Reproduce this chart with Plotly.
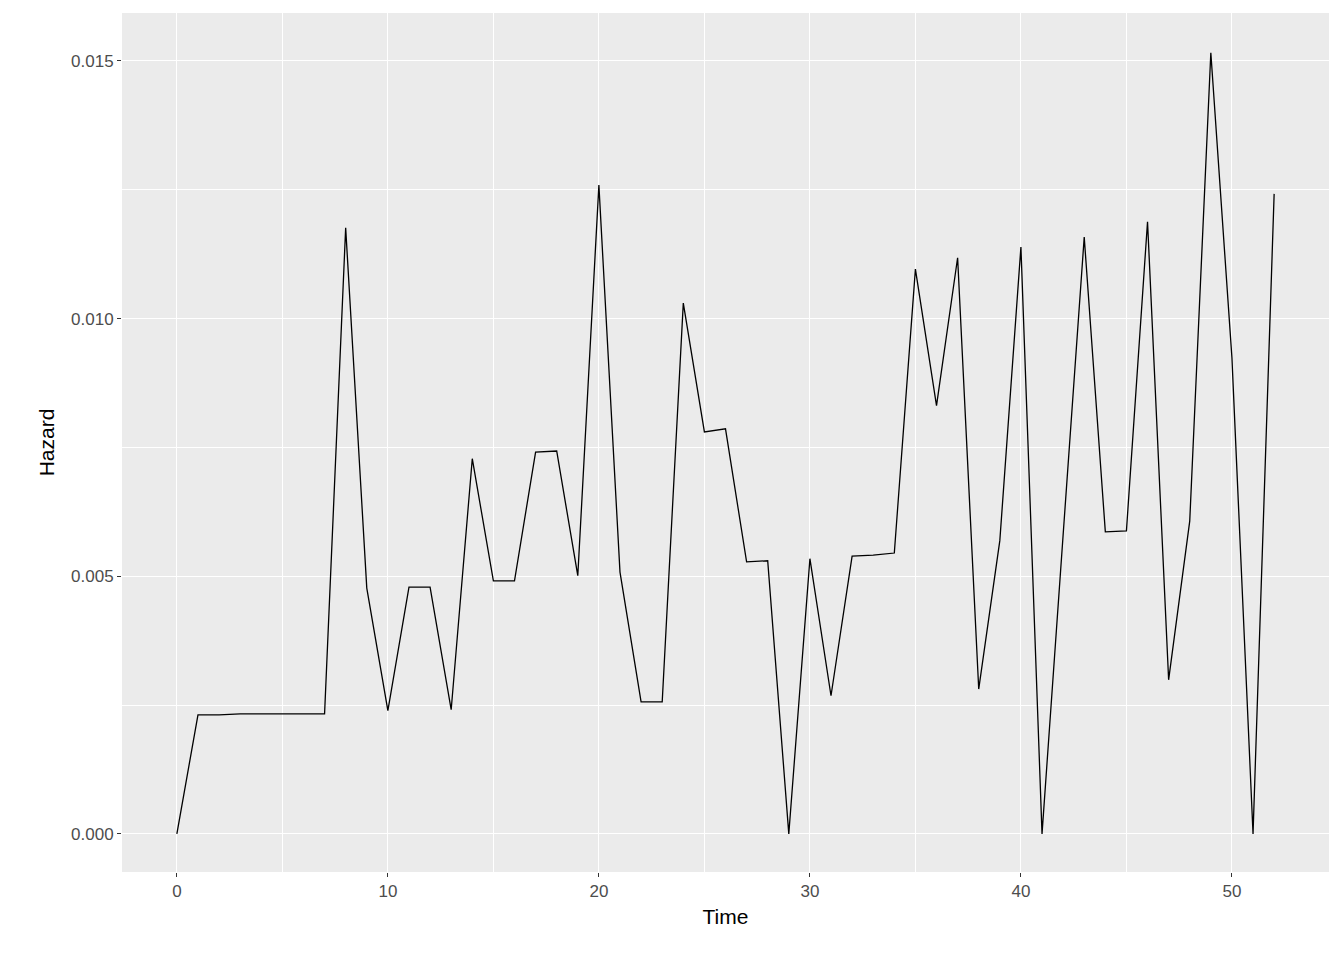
import plotly.graph_objects as go

time = list(range(53))
hazard = [0, 0.00231, 0.00231, 0.00233, 0.00233, 0.00233, 0.00233, 0.00233, 0.01176, 0.00477,
          0.00239, 0.00479, 0.00479, 0.00241, 0.00728, 0.00491, 0.00491, 0.00741, 0.00743, 0.00501,
          0.01259, 0.00508, 0.00256, 0.00256, 0.01030, 0.00780, 0.00786, 0.00528, 0.00530, 0.0,
          0.00534, 0.00268, 0.00539, 0.00541, 0.00545, 0.01096, 0.00831, 0.01118, 0.00281, 0.00569,
          0.01139, 0.0, 0.00580, 0.01158, 0.00586, 0.00588, 0.01188, 0.00299, 0.00607, 0.01516,
          0.00924, 0.0, 0.01242]

fig = go.Figure(go.Scatter(x=time, y=hazard, mode="lines", line=dict(color="black", width=1.3)))

axis_common = dict(showgrid=True, gridcolor="white", gridwidth=1.4, zeroline=False,
                   ticks="outside", ticklen=4, tickcolor="#333333",
                   tickfont=dict(size=17, color="#4D4D4D", family="Liberation Sans"),
                   showline=False)
fig.update_xaxes(range=[-2.6, 54.6], tickvals=[0, 10, 20, 30, 40, 50],
                 title=dict(text="Time", font=dict(size=21, color="black", family="Liberation Sans"), standoff=8),
                 minor=dict(tickvals=[5, 15, 25, 35, 45], showgrid=True, gridcolor="white", gridwidth=0.6, ticks=""),
                 **axis_common)
fig.update_yaxes(range=[-0.00074, 0.01593], tickvals=[0, 0.005, 0.01, 0.015],
                 ticktext=["0.000", "0.005", "0.010", "0.015"],
                 title=dict(text="Hazard", font=dict(size=21, color="black", family="Liberation Sans"), standoff=10),
                 minor=dict(tickvals=[0.0025, 0.0075, 0.0125], showgrid=True, gridcolor="white", gridwidth=0.6, ticks=""),
                 **axis_common)

fig.update_layout(width=1344, height=960, plot_bgcolor="#EBEBEB", paper_bgcolor="white",
                  margin=dict(l=114, r=23, t=5, b=96, autoexpand=False), showlegend=False,
                  font=dict(family="Liberation Sans"))
fig.write_html("out.html")
